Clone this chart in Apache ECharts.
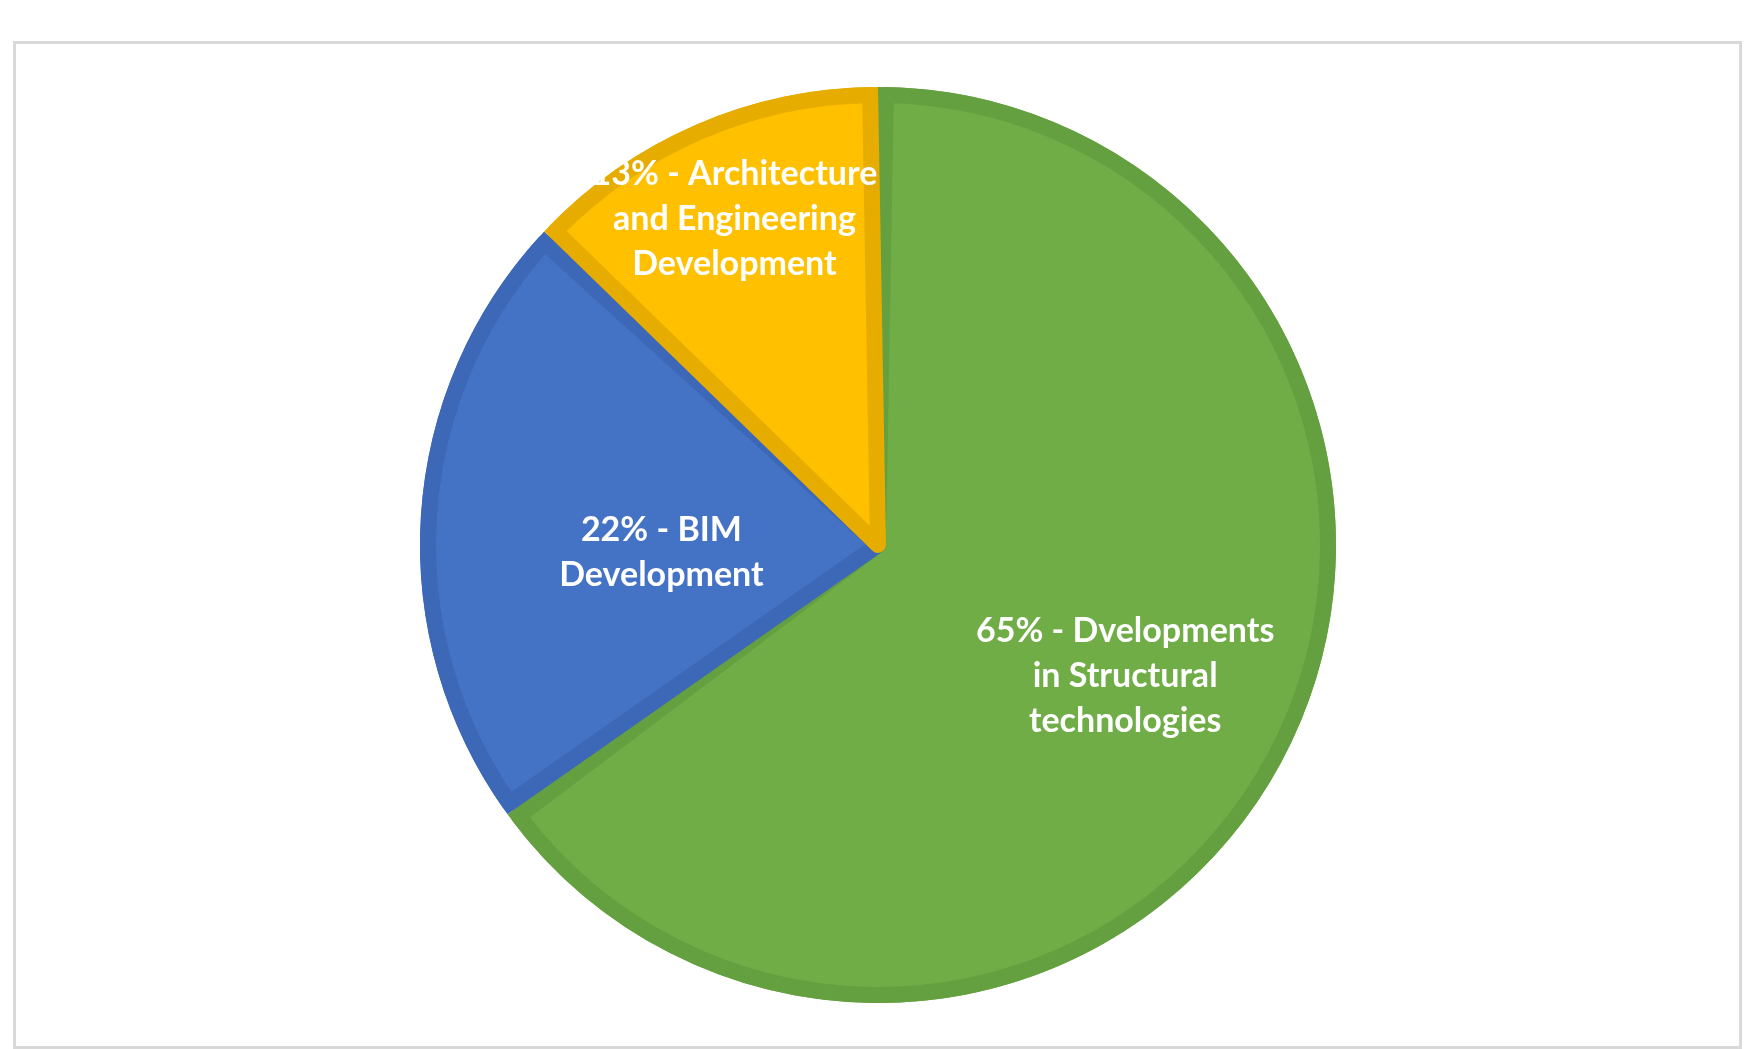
<!DOCTYPE html>
<html><head><meta charset="utf-8">
<script src="https://cdn.jsdelivr.net/npm/echarts@6/dist/echarts.min.js"></script>
<style>
html,body{margin:0;padding:0;background:#fff;}
#chart{position:absolute;left:0;top:0;width:1755px;height:1049px;}
#frame{position:absolute;left:13px;top:41px;width:1729px;height:1008px;box-sizing:border-box;border:3px solid #d9d9d9;pointer-events:none;}
</style></head><body>
<div id="chart"></div><div id="frame"></div>
<script>
// Data
const categories = ['Dvelopments\nin Structural\ntechnologies', 'BIM\nDevelopment', 'Architecture\nand Engineering\nDevelopment'];
const values = [65, 22, 13];
const fillColors = ['#70AD47', '#4472C4', '#FFC000'];
const bandColors = ['#64A040', '#3D67B7', '#E6AD00'];

function buildOption() {
  const labelShift = [[44, 28], [11, 22], [-53, -117]];
  const common = {
    type: 'pie',
    center: [878, 545],
    startAngle: 90,
    clockwise: true,
    silent: true,
    emphasis: { disabled: true },
    labelLine: { show: false }
  };
  return {
    animation: false,
    backgroundColor: '#ffffff',
    series: [
      Object.assign({}, common, {
        radius: 458,
        z: 1,
        label: { show: false },
        data: values.map((v, i) => ({ value: v, name: categories[i], itemStyle: { color: bandColors[i], borderWidth: 0 } }))
      }),
      Object.assign({}, common, {
        radius: 450,
        padAngle: 2,
        z: 2,
        label: {
          show: true, position: 'inside', formatter: '{d}% - {b}',
          color: '#ffffff', fontFamily: 'Lato', fontWeight: 'bold', fontSize: 34, lineHeight: 45, align: 'center'
        },
        data: values.map((v, i) => ({
          value: v, name: categories[i],
          itemStyle: { color: fillColors[i], borderColor: bandColors[i], borderWidth: 16, borderJoin: 'round' },
          label: { offset: labelShift[i] }
        }))
      })
    ]
  };
}
const chart = echarts.init(document.getElementById('chart'), null, { renderer: 'canvas' });
chart.setOption(buildOption());
</script>
</body></html>
